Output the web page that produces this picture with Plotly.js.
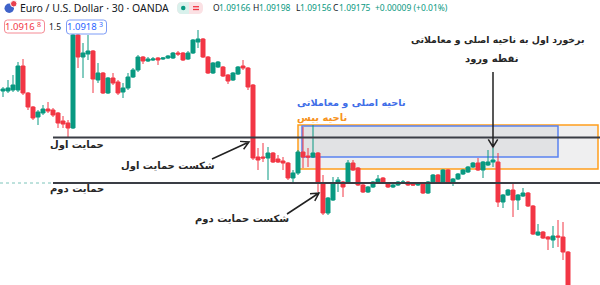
<!DOCTYPE html>
<html>
<head>
<meta charset="utf-8">
<script src="https://cdn.plot.ly/plotly-3.0.1.min.js"></script>
<style>
  html, body { margin: 0; padding: 0; background: #ffffff; }
  #chart { width: 600px; height: 285px; }
</style>
</head>
<body>
<div id="chart"></div>
<script>
// EUR/USD 30-minute candles
const openPrices = [
  1.09909,1.09909,1.09910,1.09910,1.09934,1.09907,1.09893,1.09883,1.09887,1.09891,
  1.09890,1.09887,1.09879,1.09877,1.09872,1.09965,1.09943,1.09946,1.09949,1.09920,
  1.09927,1.09907,1.09922,1.09918,1.09908,1.09912,1.09923,1.09930,1.09943,1.09939,
  1.09940,1.09942,1.09941,1.09942,1.09942,1.09947,1.09947,1.09941,1.09947,1.09958,
  1.09961,1.09943,1.09927,1.09933,1.09933,1.09925,1.09920,1.09926,1.09934,1.09932,
  1.09915,1.09843,1.09843,1.09842,1.09847,1.09841,1.09839,1.09837,1.09822,1.09827,
  1.09848,1.09844,1.09843,1.09847,1.09817,1.09787,1.09800,1.09817,1.09818,1.09817,
  1.09837,1.09832,1.09815,1.09808,1.09813,1.09818,1.09822,1.09817,1.09813,1.09815,
  1.09817,1.09818,1.09816,1.09815,1.09817,1.09807,1.09818,1.09825,1.09818,1.09830,
  1.09817,1.09821,1.09826,1.09828,1.09833,1.09837,1.09830,1.09835,1.09838,1.09838,
  1.09798,1.09805,1.09810,1.09800,1.09804,1.09807,1.09794,1.09765,1.09768,1.09763,
  1.09760,1.09764,1.09763,1.09748
];
const highPrices = [
  1.09913,1.09920,1.09925,1.09938,1.09941,1.09908,1.09894,1.09890,1.09895,1.09898,
  1.09892,1.09888,1.09884,1.09880,1.09966,1.09966,1.09957,1.09965,1.09950,1.09937,
  1.09928,1.09923,1.09927,1.09920,1.09917,1.09927,1.09932,1.09945,1.09944,1.09943,
  1.09943,1.09943,1.09943,1.09945,1.09948,1.09949,1.09948,1.09949,1.09961,1.09970,
  1.09962,1.09944,1.09938,1.09939,1.09934,1.09926,1.09928,1.09934,1.09940,1.09933,
  1.09916,1.09852,1.09857,1.09853,1.09848,1.09845,1.09843,1.09838,1.09830,1.09850,
  1.09873,1.09852,1.09875,1.09848,1.09825,1.09803,1.09823,1.09823,1.09819,1.09840,
  1.09840,1.09833,1.09816,1.09814,1.09819,1.09825,1.09823,1.09818,1.09816,1.09819,
  1.09820,1.09819,1.09817,1.09818,1.09818,1.09819,1.09826,1.09826,1.09831,1.09831,
  1.09822,1.09827,1.09831,1.09834,1.09838,1.09842,1.09839,1.09850,1.09852,1.09847,
  1.09806,1.09811,1.09817,1.09806,1.09812,1.09808,1.09795,1.09776,1.09769,1.09764,
  1.09774,1.09780,1.09778,1.09749
];
const lowPrices = [
  1.09903,1.09907,1.09908,1.09908,1.09905,1.09890,1.09880,1.09875,1.09885,1.09887,
  1.09883,1.09872,1.09872,1.09863,1.09871,1.09932,1.09922,1.09940,1.09907,1.09917,
  1.09906,1.09906,1.09915,1.09905,1.09902,1.09910,1.09922,1.09928,1.09936,1.09938,
  1.09939,1.09935,1.09940,1.09941,1.09941,1.09944,1.09939,1.09940,1.09946,1.09952,
  1.09942,1.09926,1.09926,1.09932,1.09923,1.09916,1.09919,1.09925,1.09930,1.09910,
  1.09840,1.09830,1.09838,1.09820,1.09837,1.09837,1.09830,1.09820,1.09818,1.09825,
  1.09832,1.09833,1.09842,1.09808,1.09785,1.09785,1.09799,1.09808,1.09803,1.09816,
  1.09829,1.09814,1.09807,1.09807,1.09812,1.09817,1.09816,1.09812,1.09812,1.09814,
  1.09816,1.09814,1.09814,1.09814,1.09806,1.09806,1.09817,1.09817,1.09817,1.09817,
  1.09814,1.09820,1.09825,1.09827,1.09832,1.09829,1.09822,1.09834,1.09833,1.09793,
  1.09792,1.09804,1.09783,1.09790,1.09803,1.09793,1.09765,1.09764,1.09761,1.09750,
  1.09752,1.09753,1.09740,1.09705
];
const closePrices = [
  1.09911,1.09912,1.09915,1.09934,1.09907,1.09893,1.09882,1.09888,1.09891,1.09889,
  1.09885,1.09877,1.09876,1.09872,1.09965,1.09943,1.09947,1.09949,1.09921,1.09927,
  1.09907,1.09922,1.09917,1.09907,1.09912,1.09923,1.09930,1.09943,1.09939,1.09941,
  1.09941,1.09940,1.09942,1.09944,1.09947,1.09946,1.09940,1.09947,1.09960,1.09961,
  1.09943,1.09927,1.09937,1.09938,1.09924,1.09919,1.09927,1.09933,1.09932,1.09913,
  1.09842,1.09840,1.09842,1.09847,1.09838,1.09838,1.09837,1.09822,1.09827,1.09848,
  1.09843,1.09843,1.09847,1.09818,1.09787,1.09802,1.09817,1.09820,1.09813,1.09837,
  1.09830,1.09815,1.09808,1.09813,1.09818,1.09821,1.09817,1.09813,1.09815,1.09818,
  1.09818,1.09815,1.09815,1.09817,1.09807,1.09818,1.09825,1.09818,1.09830,1.09818,
  1.09821,1.09826,1.09830,1.09833,1.09837,1.09830,1.09838,1.09838,1.09840,1.09798,
  1.09805,1.09810,1.09800,1.09805,1.09807,1.09794,1.09766,1.09768,1.09762,1.09761,
  1.09764,1.09763,1.09748,1.09710
];
const barNumbers = openPrices.map((_, i) => i + 1);

// Support levels and the marked zones (prices)
const firstSupport = 1.098625;
const secondSupport = 1.09817;
const baseZone = [1.09831, 1.09875];
const mainZone = [1.09843, 1.09874];

// Header readout
const symbolTitle = 'Euro / U.S. Dollar · 30 · OANDA';
const ohlcLetters = ['O', 'H', 'L', 'C'];
const ohlcNumbers = ['1.09166', '1.09198', '1.09156', '1.09175'];
const changeText = '+0.00009 (+0.01%)';
const sellPrice = ['1.0916', '8'];
const buyPrice = ['1.0918', '3'];
const spreadText = '1.5';

// Drawing labels
const labelSupport1 = 'حمایت اول';
const labelSupport2 = 'حمایت دوم';
const labelBreak1 = 'شکست حمایت اول';
const labelBreak2 = 'شکست حمایت دوم';
const labelMainZone = 'ناحیه اصلی و معاملاتی';
const labelBaseZone = 'ناحیه بیس';
const labelTouch = 'برخورد اول به ناحیه اصلی و معاملاتی';
const labelEntry = 'نقطه ورود';

const UP = '#089981', DOWN = '#F23645';
const W = 600, H = 285;
const px = x => x / W;
const py = y => 1 - y / H;

function arrowPath(x0, y0, x1, y1, len, spread) {
  const a = Math.atan2(y1 - y0, x1 - x0);
  const l1 = [x1 - len * Math.cos(a - spread), y1 - len * Math.sin(a - spread)];
  const l2 = [x1 - len * Math.cos(a + spread), y1 - len * Math.sin(a + spread)];
  return `M${px(x0)},${py(y0)} L${px(x1)},${py(y1)} M${px(l1[0])},${py(l1[1])} L${px(x1)},${py(y1)} L${px(l2[0])},${py(l2[1])}`;
}

function roundRect(x0, y0, x1, y1, r) {
  return `M${px(x0 + r)},${py(y0)} L${px(x1 - r)},${py(y0)} Q${px(x1)},${py(y0)} ${px(x1)},${py(y0 + r)} ` +
    `L${px(x1)},${py(y1 - r)} Q${px(x1)},${py(y1)} ${px(x1 - r)},${py(y1)} L${px(x0 + r)},${py(y1)} ` +
    `Q${px(x0)},${py(y1)} ${px(x0)},${py(y1 - r)} L${px(x0)},${py(y0 + r)} Q${px(x0)},${py(y0)} ${px(x0 + r)},${py(y0)} Z`;
}

const candles = {
  type: 'candlestick',
  x: barNumbers,
  open: openPrices,
  high: highPrices,
  low: lowPrices,
  close: closePrices,
  increasing: { line: { color: UP, width: 1 }, fillcolor: UP },
  decreasing: { line: { color: DOWN, width: 1 }, fillcolor: DOWN },
  whiskerwidth: 0,
  hoverinfo: 'skip'
};

const darkLine = '#3a3d45';
const inkColor = '#262626';
const persianFont = 'DejaVu Sans';

const shapes = [
  // base zone (orange) and main trading zone (blue)
  { type: 'rect', xref: 'x', yref: 'y', x0: 60.0, x1: 120.0, y0: baseZone[0], y1: baseZone[1],
    line: { color: '#FF9F1C', width: 1.5 }, fillcolor: 'rgba(120,123,134,0.12)', layer: 'below' },
  { type: 'rect', xref: 'x', yref: 'y', x0: 60.8, x1: 112.0, y0: mainZone[0], y1: mainZone[1],
    line: { color: '#5A82F0', width: 1.5 }, fillcolor: 'rgba(120,123,134,0.11)', layer: 'below' },
  // dotted price line
  { type: 'line', xref: 'paper', yref: 'y', x0: 0, x1: 1, y0: secondSupport, y1: secondSupport,
    line: { color: '#7cc4ba', width: 1, dash: 'dot' } },
  // support levels
  { type: 'line', xref: 'paper', yref: 'y', x0: px(53), x1: 1, y0: firstSupport, y1: firstSupport,
    line: { color: darkLine, width: 2 } },
  { type: 'line', xref: 'paper', yref: 'y', x0: px(53), x1: 1, y0: secondSupport, y1: secondSupport,
    line: { color: darkLine, width: 2 } },
  // arrows
  { type: 'path', xref: 'paper', yref: 'paper', path: arrowPath(212, 159, 249, 142, 9, 0.5),
    line: { color: '#222222', width: 1.5 } },
  { type: 'path', xref: 'paper', yref: 'paper', path: arrowPath(287, 214, 319, 193, 9, 0.5),
    line: { color: '#222222', width: 1.5 } },
  { type: 'path', xref: 'paper', yref: 'paper', path: arrowPath(493, 72, 493, 147, 9, 0.55),
    line: { color: '#222222', width: 1.5 } },
  // header: symbol logo
  { type: 'circle', xref: 'paper', yref: 'paper', x0: px(4.5), x1: px(14), y0: py(3.5), y1: py(13),
    fillcolor: '#3f63c9', line: { width: 0 } },
  { type: 'circle', xref: 'paper', yref: 'paper', x0: px(10.5), x1: px(17), y0: py(0.5), y1: py(7),
    fillcolor: '#e8414e', line: { color: '#ffffff', width: 1 } },
  // header: status pill
  { type: 'path', xref: 'paper', yref: 'paper', path: roundRect(177, 2, 203, 14, 5),
    fillcolor: '#fbe1e4', line: { width: 0 } },
  { type: 'path', xref: 'paper', yref: 'paper', path: `M${px(182)},${py(2)} L${px(189)},${py(2)} L${px(189)},${py(14)} L${px(182)},${py(14)} Q${px(177)},${py(14)} ${px(177)},${py(8)} Q${px(177)},${py(2)} ${px(182)},${py(2)} Z`,
    fillcolor: '#d9f1ec', line: { width: 0 } },
  { type: 'circle', xref: 'paper', yref: 'paper', x0: px(181), x1: px(185.5), y0: py(5.8), y1: py(10.3),
    fillcolor: UP, line: { width: 0 } },
  { type: 'line', xref: 'paper', yref: 'paper', x0: px(193), x1: px(199), y0: py(6.7), y1: py(6.7),
    line: { color: DOWN, width: 1.3 } },
  { type: 'line', xref: 'paper', yref: 'paper', x0: px(193), x1: px(199), y0: py(9.5), y1: py(9.5),
    line: { color: DOWN, width: 1.3 } },
  // header: bid / ask boxes
  { type: 'path', xref: 'paper', yref: 'paper', path: roundRect(4.5, 20, 44.5, 33, 3),
    fillcolor: '#ffffff', line: { color: '#f58a94', width: 1 } },
  { type: 'path', xref: 'paper', yref: 'paper', path: roundRect(66.5, 20, 106.5, 34, 3),
    fillcolor: '#ffffff', line: { color: '#7d9cf7', width: 1 } }
];

function note(text, x, y, opts) {
  return Object.assign({
    xref: 'paper', yref: 'paper', x: px(x), y: py(y), text: text, showarrow: false,
    xanchor: 'left', yanchor: 'middle', borderpad: 0
  }, opts);
}

function label(text, x, y, color, size) {
  return note(text, x, y, {
    xanchor: 'center',
    font: { family: persianFont, size: size, color: color, weight: 'bold' }
  });
}

const headFont = (size, color) => ({ family: 'Noto Sans', size: size, color: color });

// OHLC readout, letter then value, laid out left to right
const ohlcLetterX = [212, 252, 294.5, 332];
const ohlcValueX = [218, 258, 299, 338];
const ohlcNotes = [];
ohlcLetters.forEach((k, i) => {
  ohlcNotes.push(note(k, ohlcLetterX[i], 8, { font: headFont(8.5, '#131722') }));
  ohlcNotes.push(note(ohlcNumbers[i], ohlcValueX[i], 8, { font: headFont(8.5, UP) }));
});
ohlcNotes.push(note(changeText, 374, 8, { font: headFont(8.5, UP) }));

const annotations = [
  note(symbolTitle, 19, 8, { font: headFont(10.5, '#131722') }),
  ...ohlcNotes,
  note(sellPrice[0], 36, 27, { xanchor: 'right', font: headFont(9.5, DOWN) }),
  note(sellPrice[1], 36.3, 24.2, { font: headFont(7, DOWN) }),
  note(spreadText, 55, 26.5, { xanchor: 'center', font: headFont(8.5, '#131722') }),
  note(buyPrice[0], 98, 27, { xanchor: 'right', font: headFont(9.5, '#2962FF') }),
  note(buyPrice[1], 98.3, 24.2, { font: headFont(7, '#2962FF') }),

  label(labelSupport1, 77, 145, inkColor, 10),
  label(labelSupport2, 77, 189, inkColor, 10),
  label(labelBreak1, 168, 166, inkColor, 10),
  label(labelBreak2, 242, 219, inkColor, 10),
  label(labelMainZone, 351, 103, '#3f6ee8', 9.7),
  label(labelBaseZone, 322, 118, '#f7931e', 10),
  label(labelTouch, 497, 40, inkColor, 9.4),
  label(labelEntry, 492, 59, inkColor, 10)
];

const layout = {
  width: W,
  height: H,
  margin: { l: 0, r: 0, t: 0, b: 0 },
  paper_bgcolor: '#ffffff',
  plot_bgcolor: '#ffffff',
  showlegend: false,
  boxgap: 0.2,
  boxgroupgap: 0,
  xaxis: { range: [0.4, 120.4], visible: false, rangeslider: { visible: false }, fixedrange: true },
  yaxis: { range: [1.09715, 1.10000], visible: false, fixedrange: true },
  shapes: shapes,
  annotations: annotations
};

Plotly.newPlot('chart', [candles], layout, { staticPlot: true, displayModeBar: false });
</script>
</body>
</html>
